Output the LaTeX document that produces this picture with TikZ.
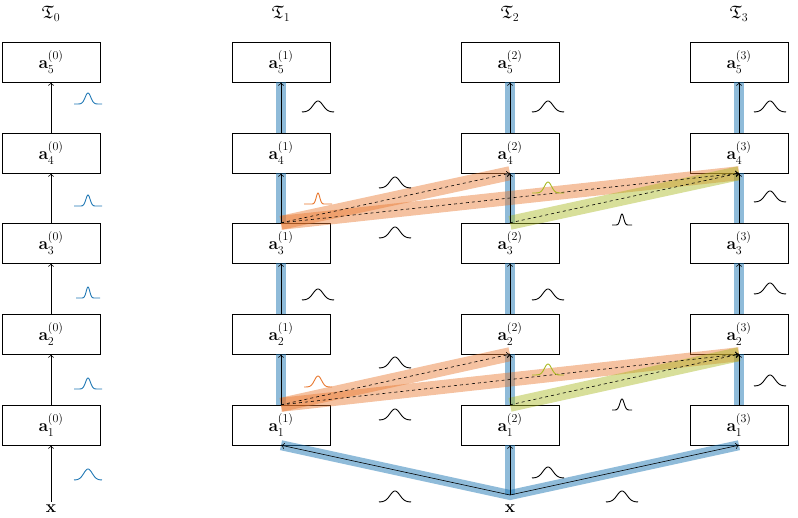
\documentclass[tikz,border=0pt]{standalone}
\usepackage{amssymb,bm}
\usetikzlibrary{arrows.meta}
\definecolor{mblue}{HTML}{1F77B4}
\definecolor{morange}{HTML}{E8772E}
\definecolor{mgreen}{HTML}{A8B820}
\begin{document}
\begin{tikzpicture}[x=1pt,y=-1pt,
 box/.style={draw,minimum width=98pt,minimum height=40pt,inner sep=0pt,font=\fontsize{17}{20}\selectfont},
 arr/.style={-{To[length=3.5pt,width=6pt]},line width=0.6pt},
 band/.style={line width=10pt,draw=mblue,opacity=0.5},
 oband/.style={line width=14pt,draw=morange,opacity=0.45},
 gband/.style={line width=14pt,draw=mgreen,opacity=0.45},
 dsh/.style={-{To[length=3.5pt,width=6pt]},dashed,line width=0.6pt}]
\useasboundingbox (0,0) rectangle (798,517);
\newcommand\gss[5]{\draw[#4,line width=0.9pt] plot[domain=-#5:#5,samples=50,smooth] ({#1+\x},{#2-11*exp(-(\x/#3)*(\x/#3))});}
\foreach \c/\xx in {0/51,1/281,2/510,3/739}{
 \node[font=\fontsize{18}{20}\selectfont] (t\c) at (\xx,14) {$\mathfrak{T}_\c$};
 \foreach \r/\yy in {1/425,2/334,3/243,4/153,5/62}{
  \node[box] (a\c\r) at (\xx,\yy) {$\mathbf{a}_\r^{(\c)}$};}}
\node[font=\fontsize{17}{20}\selectfont] (x0) at (51,509) {$\mathbf{x}$};
\node[font=\fontsize{17}{20}\selectfont] (x) at (510,509) {$\mathbf{x}$};
\coordinate (xc) at (510,495);
\foreach \c in {1,2,3}{
 \foreach \r/\s in {1/2,2/3,3/4,4/5}{
  \draw[band] (a\c\r.north) -- (a\c\s.south);}}
\draw[band] (a21.south) -- (xc);
\draw[band,line join=miter] (a11.south) -- (xc) -- (a31.south);
\foreach \lo/\hi in {1/2,3/4}{
 \draw[oband] (a1\lo.north) -- (a2\hi.south);
 \draw[oband] (a1\lo.north) -- (a3\hi.south);
 \draw[gband] (a2\lo.north) -- (a3\hi.south);
 \draw[dsh] (a1\lo.north) -- (a2\hi.south);
 \draw[dsh] (a1\lo.north) -- (a3\hi.south);
 \draw[dsh] (a2\lo.north) -- (a3\hi.south);}
\foreach \c in {0,1,2,3}{
 \foreach \r/\s in {1/2,2/3,3/4,4/5}{
  \draw[arr] (a\c\r.north) -- (a\c\s.south);}}
\draw[arr] (x0) -- (a01.south);
\draw[arr] (xc) -- (a21.south);
\draw[arr] (xc) -- (a11.south);
\draw[arr] (xc) -- (a31.south);
\gss{88}{104}{4}{mblue}{14}
\gss{88}{206}{3}{mblue}{14}
\gss{88}{298}{2.5}{mblue}{12}
\gss{88}{389}{3.5}{mblue}{14}
\gss{88}{480}{6}{mblue}{14}
\foreach \gx/\gy in {318/112,318/300,548/112,548/300,548/478,770/112,770/202,770/294,770/386,395/188,395/368,395/502,395/238,395/420,622/502}{\gss{\gx}{\gy}{7}{black}{16}}
\gss{622}{225}{2.5}{black}{10}
\gss{622}{410}{3}{black}{10}
\gss{318}{204}{2.5}{morange}{14}
\gss{318}{387}{5}{morange}{14}
\gss{548}{193}{5}{mgreen}{16}
\gss{548}{375}{5}{mgreen}{16}
\end{tikzpicture}
\end{document}
